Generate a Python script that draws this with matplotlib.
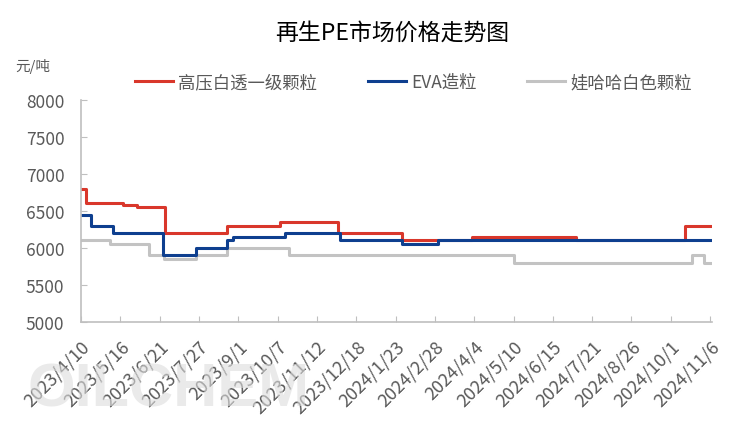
import pandas as pd
import matplotlib.pyplot as plt

plt.rcParams['font.family'] = ['Noto Sans CJK SC', 'DejaVu Sans']

# 高压白透一级颗粒
red_dates = ["2023-04-10", "2023-04-15", "2023-05-18", "2023-05-31", "2023-06-26", "2023-08-22",
             "2023-10-09", "2023-12-01", "2024-01-29", "2024-04-02", "2024-07-06", "2024-10-14", "2024-11-06"]
red_vals = [6800, 6600, 6580, 6550, 6200, 6300, 6350, 6200, 6100, 6150, 6100, 6300, 6300]

# EVA造粒
blue_dates = ["2023-04-10", "2023-04-19", "2023-05-09", "2023-06-24", "2023-07-24", "2023-08-22",
              "2023-08-27", "2023-10-14", "2023-12-03", "2024-01-29", "2024-03-02", "2024-11-06"]
blue_vals = [6450, 6300, 6200, 5900, 6000, 6100, 6150, 6200, 6100, 6050, 6100, 6100]

# 娃哈哈白色颗粒
gray_dates = ["2023-04-10", "2023-05-07", "2023-06-11", "2023-06-25", "2023-07-24", "2023-08-22",
              "2023-10-17", "2024-05-10", "2024-10-20", "2024-10-31", "2024-11-06"]
gray_vals = [6100, 6050, 5900, 5850, 5900, 6000, 5900, 5800, 5900, 5800, 5800]

names = ["高压白透一级颗粒", "EVA造粒", "娃哈哈白色颗粒"]
colors = ["#d9372b", "#0e3f8f", "#c3c3c3"]

ticks = pd.date_range("2023-04-10", periods=17, freq="36D")
tick_labels = [f"{d.year}/{d.month}/{d.day}" for d in ticks]

fig = plt.figure(figsize=(7.5, 4.35), dpi=100)
ax = fig.add_axes([0.108, 0.2575, 0.841, 0.511])

# watermark
fig.text(0.037, 0.065, "OILCHEM", fontsize=44, fontweight="bold", color="#dcdcdc",
         alpha=0.6, family=["Liberation Sans", "DejaVu Sans"], zorder=0)

series = [(red_dates, red_vals), (blue_dates, blue_vals), (gray_dates, gray_vals)]
order = [2, 0, 1]
lines = {}
for i in order:
    d, v = series[i]
    ln, = ax.plot(pd.to_datetime(d), v, drawstyle="steps-post", color=colors[i], lw=2.2, label=names[i])
    lines[i] = ln

ax.set_ylim(5000, 8000)
ax.set_yticks(range(5000, 8001, 500))
ax.set_xlim(pd.Timestamp("2023-04-10"), pd.Timestamp("2024-11-07 12:00"))
ax.set_xticks(ticks)
ax.set_xticklabels(tick_labels, rotation=45, ha="right", rotation_mode="anchor")

for s in ["top", "right"]:
    ax.spines[s].set_visible(False)
for s in ["left", "bottom"]:
    ax.spines[s].set_color("#bfbfbf")
    ax.spines[s].set_linewidth(1.2)
ax.tick_params(axis="both", direction="in", color="#bfbfbf", length=4, labelcolor="#595959", labelsize=12.5)
ax.tick_params(axis="x", labelsize=13, pad=11)
ax.tick_params(axis="y", pad=12)

fig.text(0.523, 0.924, "再生PE市场价格走势图", ha="center", va="center", fontsize=16.5, color="#000000")
fig.text(0.02, 0.848, "元/吨", ha="left", va="center", fontsize=10.5, color="#595959")

ax.legend([lines[0], lines[1], lines[2]], names, loc="center left", bbox_to_anchor=(135 / 750, 0.809),
          bbox_transform=fig.transFigure, borderpad=0, borderaxespad=0,
          ncol=3, frameon=False, fontsize=12.5, labelcolor="#595959", handlelength=2.2,
          handletextpad=0.3, columnspacing=2.9)

plt.savefig("out.png", dpi=100)
